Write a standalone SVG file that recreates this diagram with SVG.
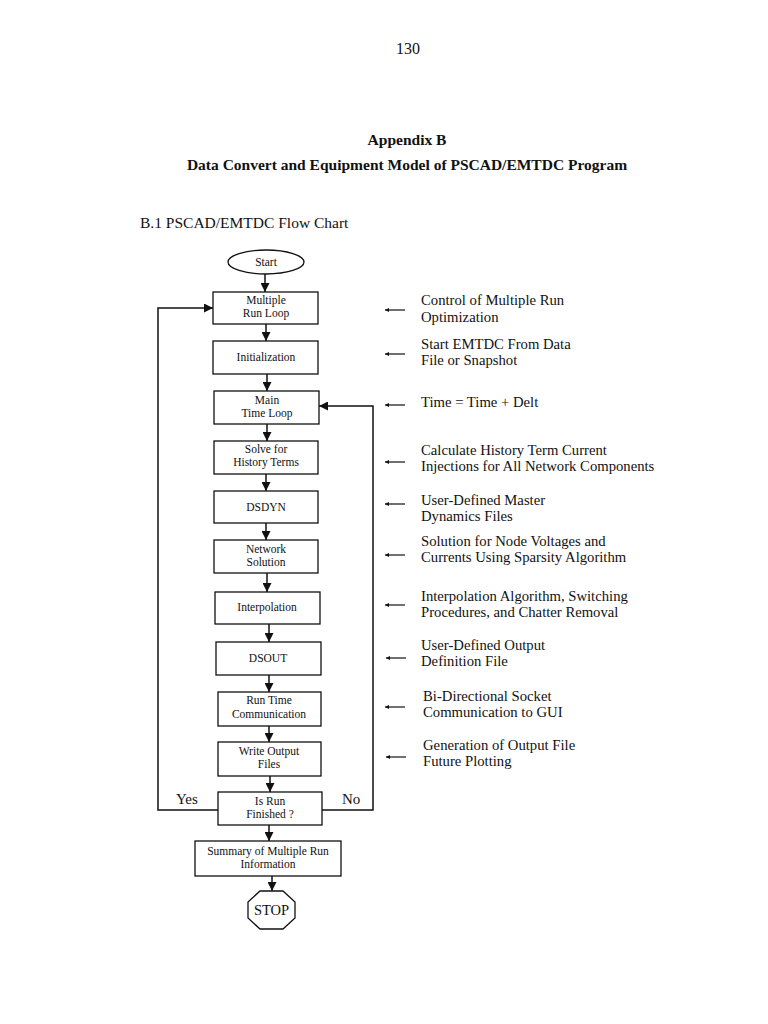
<svg xmlns="http://www.w3.org/2000/svg" width="768" height="1024" viewBox="0 0 768 1024">
<defs>
<style>
text{font-family:"Liberation Serif","Times New Roman",serif;fill:#111;}
.hdr{font-size:16px;}
.ttl{font-size:15.5px;font-weight:bold;text-anchor:middle;}
.bx{font-size:11.5px;text-anchor:middle;}
.note{font-size:14.7px;}
.yn{font-size:15px;}
.box{fill:#fff;stroke:#111;stroke-width:1.3;}
.ln{fill:none;stroke:#111;stroke-width:1.5;}
.sl{fill:none;stroke:#111;stroke-width:1.2;}
</style>
<marker id="ah" viewBox="0 0 10 10" refX="10" refY="5" markerWidth="9" markerHeight="9" markerUnits="userSpaceOnUse" orient="auto">
<path d="M0,0 L10,5 L0,10 z" fill="#111"/>
</marker>
<marker id="sa" viewBox="0 0 10 10" refX="10" refY="5" markerWidth="5" markerHeight="4" markerUnits="userSpaceOnUse" orient="auto">
<path d="M0,0 L10,5 L0,10 z" fill="#111"/>
</marker>
</defs>
<rect width="768" height="1024" fill="#fff"/>
<text class="hdr" x="408" y="54" text-anchor="middle">130</text>
<text class="ttl" x="407" y="145">Appendix B</text>
<text class="ttl" x="407" y="170">Data Convert and Equipment Model of PSCAD/EMTDC Program</text>
<text x="140" y="228" font-size="15.5">B.1 PSCAD/EMTDC Flow Chart</text>

<g id="connectors">
<line class="ln" x1="265" y1="274" x2="265" y2="292" marker-end="url(#ah)"/>
<line class="ln" x1="266" y1="324" x2="266" y2="341" marker-end="url(#ah)"/>
<line class="ln" x1="267" y1="374" x2="267" y2="391" marker-end="url(#ah)"/>
<line class="ln" x1="267" y1="424" x2="267" y2="441" marker-end="url(#ah)"/>
<line class="ln" x1="266" y1="474" x2="266" y2="491" marker-end="url(#ah)"/>
<line class="ln" x1="266" y1="523" x2="266" y2="540" marker-end="url(#ah)"/>
<line class="ln" x1="267" y1="573" x2="267" y2="592" marker-end="url(#ah)"/>
<line class="ln" x1="269" y1="624" x2="269" y2="642" marker-end="url(#ah)"/>
<line class="ln" x1="269" y1="675" x2="269" y2="692" marker-end="url(#ah)"/>
<line class="ln" x1="269" y1="726" x2="269" y2="742" marker-end="url(#ah)"/>
<line class="ln" x1="270" y1="776" x2="270" y2="792" marker-end="url(#ah)"/>
<line class="ln" x1="269" y1="825" x2="269" y2="841" marker-end="url(#ah)"/>
<line class="ln" x1="272" y1="876" x2="272" y2="891" marker-end="url(#ah)"/>
<polyline class="ln" points="218,810 158,810 158,308 213,308" marker-end="url(#ah)"/>
<polyline class="ln" points="322,810 373,810 373,406 319,406" marker-end="url(#ah)"/>
<text class="yn" x="176" y="804">Yes</text>
<text class="yn" x="342" y="804">No</text>
<line class="sl" x1="405" y1="310" x2="385" y2="310" marker-end="url(#sa)"/>
<line class="sl" x1="405" y1="354" x2="385" y2="354" marker-end="url(#sa)"/>
<line class="sl" x1="405" y1="405" x2="385" y2="405" marker-end="url(#sa)"/>
<line class="sl" x1="405" y1="462" x2="385" y2="462" marker-end="url(#sa)"/>
<line class="sl" x1="405" y1="504" x2="385" y2="504" marker-end="url(#sa)"/>
<line class="sl" x1="405" y1="555" x2="385" y2="555" marker-end="url(#sa)"/>
<line class="sl" x1="405" y1="605" x2="385" y2="605" marker-end="url(#sa)"/>
<line class="sl" x1="406" y1="658" x2="386" y2="658" marker-end="url(#sa)"/>
<line class="sl" x1="405" y1="707" x2="385" y2="707" marker-end="url(#sa)"/>
<line class="sl" x1="406" y1="757" x2="386" y2="757" marker-end="url(#sa)"/>
</g>

<g id="start"><ellipse class="box" cx="266" cy="262" rx="38" ry="12"/><text class="bx" x="266" y="266">Start</text></g>
<g id="multiple-run-loop"><rect class="box" x="213" y="292" width="105" height="32"/><text class="bx" x="266" y="304">Multiple</text><text class="bx" x="266" y="317">Run Loop</text></g>
<g id="initialization"><rect class="box" x="213" y="341" width="105" height="33"/><text class="bx" x="266" y="361">Initialization</text></g>
<g id="main-time-loop"><rect class="box" x="214" y="391" width="105" height="33"/><text class="bx" x="267" y="404">Main</text><text class="bx" x="267" y="417">Time Loop</text></g>
<g id="solve-history"><rect class="box" x="214" y="441" width="104" height="33"/><text class="bx" x="266" y="453">Solve for</text><text class="bx" x="266" y="466">History Terms</text></g>
<g id="dsdyn"><rect class="box" x="214" y="491" width="104" height="32"/><text class="bx" x="266" y="511">DSDYN</text></g>
<g id="network-solution"><rect class="box" x="214" y="540" width="104" height="33"/><text class="bx" x="266" y="553">Network</text><text class="bx" x="266" y="566">Solution</text></g>
<g id="interpolation"><rect class="box" x="215" y="592" width="105" height="32"/><text class="bx" x="267" y="611">Interpolation</text></g>
<g id="dsout"><rect class="box" x="216" y="642" width="105" height="33"/><text class="bx" x="268" y="662">DSOUT</text></g>
<g id="run-time-communication"><rect class="box" x="218" y="692" width="103" height="34"/><text class="bx" x="269" y="704">Run Time</text><text class="bx" x="269" y="718">Communication</text></g>
<g id="write-output-files"><rect class="box" x="218" y="742" width="103" height="34"/><text class="bx" x="269" y="755">Write Output</text><text class="bx" x="269" y="768">Files</text></g>
<g id="is-run-finished"><rect class="box" x="218" y="792" width="104" height="33"/><text class="bx" x="270" y="805">Is Run</text><text class="bx" x="270" y="818">Finished ?</text></g>
<g id="summary"><rect class="box" x="195" y="841" width="146" height="35"/><text class="bx" x="268" y="855">Summary of Multiple Run</text><text class="bx" x="268" y="868">Information</text></g>
<g id="stop"><polygon class="box" points="260,891 283,891 295,902 295,918 283,929 260,929 248,918 248,902"/><text x="271.5" y="915" font-size="14.5" text-anchor="middle">STOP</text></g>

<g id="notes">
<text class="note" x="421" y="305">Control of Multiple Run</text>
<text class="note" x="421" y="322">Optimization</text>
<text class="note" x="421" y="349">Start EMTDC From Data</text>
<text class="note" x="421" y="365">File or Snapshot</text>
<text class="note" x="421" y="407">Time = Time + Delt</text>
<text class="note" x="421" y="455">Calculate History Term Current</text>
<text class="note" x="421" y="471">Injections for All Network Components</text>
<text class="note" x="421" y="505">User-Defined Master</text>
<text class="note" x="421" y="521">Dynamics Files</text>
<text class="note" x="421" y="546">Solution for Node Voltages and</text>
<text class="note" x="421" y="562">Currents Using Sparsity Algorithm</text>
<text class="note" x="421" y="601">Interpolation Algorithm, Switching</text>
<text class="note" x="421" y="617">Procedures, and Chatter Removal</text>
<text class="note" x="421" y="650">User-Defined Output</text>
<text class="note" x="421" y="666">Definition File</text>
<text class="note" x="423" y="701">Bi-Directional Socket</text>
<text class="note" x="423" y="717">Communication to GUI</text>
<text class="note" x="423" y="750">Generation of Output File</text>
<text class="note" x="423" y="766">Future Plotting</text>
</g>
</svg>
